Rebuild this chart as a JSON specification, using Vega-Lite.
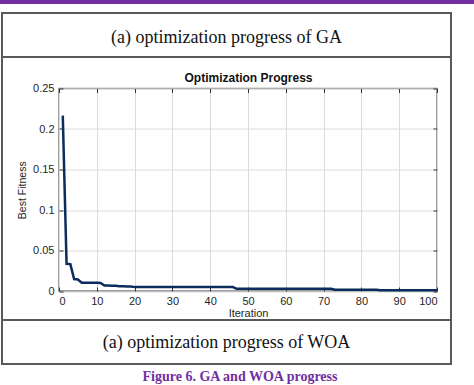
{
  "$schema": "https://vega.github.io/schema/vega-lite/v6.json",
  "width": 378,
  "height": 202.5,
  "autosize": "none",
  "padding": {"left": 59, "top": 88.5, "right": 37, "bottom": 94},
  "background": "white",
  "config": {
    "view": {"stroke": "#7f7f7f", "strokeWidth": 1.5},
    "font": "Liberation Sans"
  },
  "data": {
    "values": [
      {"iteration": 1, "fitness": 0.2165},
      {"iteration": 2, "fitness": 0.0335},
      {"iteration": 3, "fitness": 0.0332},
      {"iteration": 4, "fitness": 0.0147},
      {"iteration": 5, "fitness": 0.0142},
      {"iteration": 6, "fitness": 0.0102},
      {"iteration": 7, "fitness": 0.0102},
      {"iteration": 8, "fitness": 0.0102},
      {"iteration": 9, "fitness": 0.0102},
      {"iteration": 10, "fitness": 0.0102},
      {"iteration": 11, "fitness": 0.0100},
      {"iteration": 12, "fitness": 0.0068},
      {"iteration": 13, "fitness": 0.0068},
      {"iteration": 14, "fitness": 0.0066},
      {"iteration": 15, "fitness": 0.0066},
      {"iteration": 16, "fitness": 0.0058},
      {"iteration": 17, "fitness": 0.0058},
      {"iteration": 18, "fitness": 0.0057},
      {"iteration": 19, "fitness": 0.0056},
      {"iteration": 20, "fitness": 0.0048},
      {"iteration": 21, "fitness": 0.0048},
      {"iteration": 22, "fitness": 0.0048},
      {"iteration": 23, "fitness": 0.0048},
      {"iteration": 24, "fitness": 0.0048},
      {"iteration": 25, "fitness": 0.0048},
      {"iteration": 26, "fitness": 0.0048},
      {"iteration": 27, "fitness": 0.0048},
      {"iteration": 28, "fitness": 0.0048},
      {"iteration": 29, "fitness": 0.0048},
      {"iteration": 30, "fitness": 0.0048},
      {"iteration": 31, "fitness": 0.0048},
      {"iteration": 32, "fitness": 0.0048},
      {"iteration": 33, "fitness": 0.0048},
      {"iteration": 34, "fitness": 0.0048},
      {"iteration": 35, "fitness": 0.0048},
      {"iteration": 36, "fitness": 0.0048},
      {"iteration": 37, "fitness": 0.0048},
      {"iteration": 38, "fitness": 0.0048},
      {"iteration": 39, "fitness": 0.0048},
      {"iteration": 40, "fitness": 0.0048},
      {"iteration": 41, "fitness": 0.0048},
      {"iteration": 42, "fitness": 0.0048},
      {"iteration": 43, "fitness": 0.0048},
      {"iteration": 44, "fitness": 0.0048},
      {"iteration": 45, "fitness": 0.0048},
      {"iteration": 46, "fitness": 0.0048},
      {"iteration": 47, "fitness": 0.0027},
      {"iteration": 48, "fitness": 0.0027},
      {"iteration": 49, "fitness": 0.0027},
      {"iteration": 50, "fitness": 0.0027},
      {"iteration": 51, "fitness": 0.0027},
      {"iteration": 52, "fitness": 0.0027},
      {"iteration": 53, "fitness": 0.0027},
      {"iteration": 54, "fitness": 0.0027},
      {"iteration": 55, "fitness": 0.0027},
      {"iteration": 56, "fitness": 0.0027},
      {"iteration": 57, "fitness": 0.0027},
      {"iteration": 58, "fitness": 0.0027},
      {"iteration": 59, "fitness": 0.0027},
      {"iteration": 60, "fitness": 0.0027},
      {"iteration": 61, "fitness": 0.0027},
      {"iteration": 62, "fitness": 0.0027},
      {"iteration": 63, "fitness": 0.0027},
      {"iteration": 64, "fitness": 0.0027},
      {"iteration": 65, "fitness": 0.0027},
      {"iteration": 66, "fitness": 0.0027},
      {"iteration": 67, "fitness": 0.0027},
      {"iteration": 68, "fitness": 0.0027},
      {"iteration": 69, "fitness": 0.0027},
      {"iteration": 70, "fitness": 0.0027},
      {"iteration": 71, "fitness": 0.0027},
      {"iteration": 72, "fitness": 0.0027},
      {"iteration": 73, "fitness": 0.0015},
      {"iteration": 74, "fitness": 0.0015},
      {"iteration": 75, "fitness": 0.0015},
      {"iteration": 76, "fitness": 0.0015},
      {"iteration": 77, "fitness": 0.0015},
      {"iteration": 78, "fitness": 0.0015},
      {"iteration": 79, "fitness": 0.0015},
      {"iteration": 80, "fitness": 0.0015},
      {"iteration": 81, "fitness": 0.0015},
      {"iteration": 82, "fitness": 0.0015},
      {"iteration": 83, "fitness": 0.0015},
      {"iteration": 84, "fitness": 0.0015},
      {"iteration": 85, "fitness": 0.0009},
      {"iteration": 86, "fitness": 0.0009},
      {"iteration": 87, "fitness": 0.0009},
      {"iteration": 88, "fitness": 0.0009},
      {"iteration": 89, "fitness": 0.0009},
      {"iteration": 90, "fitness": 0.0009},
      {"iteration": 91, "fitness": 0.0009},
      {"iteration": 92, "fitness": 0.0009},
      {"iteration": 93, "fitness": 0.0009},
      {"iteration": 94, "fitness": 0.0009},
      {"iteration": 95, "fitness": 0.0009},
      {"iteration": 96, "fitness": 0.0009},
      {"iteration": 97, "fitness": 0.0009},
      {"iteration": 98, "fitness": 0.0009},
      {"iteration": 99, "fitness": 0.0009},
      {"iteration": 100, "fitness": 0.0009}
    ]
  },
  "resolve": {"axis": {"x": "independent", "y": "independent"}},
  "layer": [
    {
      "mark": {"type": "line", "strokeOpacity": 0},
      "encoding": {
        "x": {"field": "iteration", "type": "quantitative",
          "scale": {"domain": [0, 100], "nice": false, "zero": false},
          "axis": {"orient": "top", "labels": false, "domain": false, "grid": false,
            "title": "Optimization Progress", "titleFont": "Liberation Sans", "titleFontSize": 12, "titleFontWeight": "bold", "titleColor": "#111111", "titlePadding": 4,
            "values": [0, 10, 20, 30, 40, 50, 60, 70, 80, 90, 100], "ticks": true, "tickSize": -4, "tickColor": "#333333", "tickWidth": 1}},
        "y": {"field": "fitness", "type": "quantitative",
          "scale": {"domain": [0, 0.25], "nice": false, "zero": false},
          "axis": {"orient": "right", "labels": false, "domain": false, "grid": false, "title": null,
            "values": [0, 0.05, 0.1, 0.15, 0.2, 0.25], "ticks": true, "tickSize": -4, "tickColor": "#333333", "tickWidth": 1}}
      }
    },
    {
      "mark": {"type": "line", "color": "#0c2c5e", "strokeWidth": 2.5},
      "encoding": {
        "x": {"field": "iteration", "type": "quantitative",
          "scale": {"domain": [0, 100], "nice": false, "zero": false},
          "axis": {"orient": "bottom", "values": [0, 10, 20, 30, 40, 50, 60, 70, 80, 90, 100],
            "domain": false, "grid": true, "gridColor": "#dcdcdc", "gridWidth": 1,
            "ticks": true, "tickSize": -4, "tickColor": "#333333",
            "labelFont": "Liberation Sans", "labelFontSize": 11, "labelColor": "#262626", "labelPadding": 8,
            "title": "Iteration", "titleFont": "Liberation Sans", "titleFontSize": 11, "titleFontWeight": "normal", "titleColor": "#262626", "titlePadding": 1}},
        "y": {"field": "fitness", "type": "quantitative",
          "scale": {"domain": [0, 0.25], "nice": false, "zero": false},
          "axis": {"orient": "left", "values": [0, 0.05, 0.1, 0.15, 0.2, 0.25], "format": ".2~f",
            "domain": false, "grid": true, "gridColor": "#dcdcdc", "gridWidth": 1,
            "ticks": true, "tickSize": -4, "tickColor": "#333333",
            "labelFont": "Liberation Sans", "labelFontSize": 11, "labelColor": "#262626", "labelPadding": 9,
            "title": "Best Fitness", "titleFont": "Liberation Sans", "titleFontSize": 10.5, "titleFontWeight": "normal", "titleColor": "#262626", "titlePadding": 5}}
      }
    },
    {
      "data": {"values": [{}]},
      "mark": {"type": "rect", "color": "#7030a0"},
      "encoding": {
        "x": {"datum": -15.61, "type": "quantitative", "axis": null},
        "x2": {"datum": 109.79},
        "y": {"datum": 0.3593, "type": "quantitative", "axis": null},
        "y2": {"datum": 0.3543}
      }
    },
    {
      "data": {"values": [{}]},
      "mark": {"type": "rule", "color": "#595959", "strokeWidth": 2, "strokeCap": "square"},
      "encoding": {
        "x": {"datum": -15.08, "type": "quantitative", "axis": null},
        "x2": {"datum": 103.7},
        "y": {"datum": 0.3432, "type": "quantitative", "axis": null}
      }
    },
    {
      "data": {"values": [{}]},
      "mark": {"type": "rule", "color": "#595959", "strokeWidth": 2, "strokeCap": "square"},
      "encoding": {
        "x": {"datum": -15.08, "type": "quantitative", "axis": null},
        "x2": {"datum": 103.7},
        "y": {"datum": 0.2889, "type": "quantitative", "axis": null}
      }
    },
    {
      "data": {"values": [{}]},
      "mark": {"type": "rule", "color": "#595959", "strokeWidth": 2, "strokeCap": "square"},
      "encoding": {
        "x": {"datum": -15.08, "type": "quantitative", "axis": null},
        "x2": {"datum": 103.7},
        "y": {"datum": -0.0358, "type": "quantitative", "axis": null}
      }
    },
    {
      "data": {"values": [{}]},
      "mark": {"type": "rule", "color": "#595959", "strokeWidth": 2, "strokeCap": "square"},
      "encoding": {
        "x": {"datum": -15.08, "type": "quantitative", "axis": null},
        "x2": {"datum": 103.7},
        "y": {"datum": -0.0901, "type": "quantitative", "axis": null}
      }
    },
    {
      "data": {"values": [{}]},
      "mark": {"type": "rule", "color": "#595959", "strokeWidth": 2, "strokeCap": "square"},
      "encoding": {
        "x": {"datum": -15.08, "type": "quantitative", "axis": null},
        "y": {"datum": 0.3432, "type": "quantitative", "axis": null},
        "y2": {"datum": -0.0901}
      }
    },
    {
      "data": {"values": [{}]},
      "mark": {"type": "rule", "color": "#595959", "strokeWidth": 2, "strokeCap": "square"},
      "encoding": {
        "x": {"datum": 103.7, "type": "quantitative", "axis": null},
        "y": {"datum": 0.3432, "type": "quantitative", "axis": null},
        "y2": {"datum": -0.0901}
      }
    },
    {
      "data": {"values": [{}]},
      "mark": {"type": "text", "text": "(a) optimization progress of GA", "font": "Liberation Serif", "fontSize": 18, "color": "#111111", "align": "center", "baseline": "middle"},
      "encoding": {
        "x": {"datum": 44.31, "type": "quantitative", "axis": null},
        "y": {"datum": 0.3123, "type": "quantitative", "axis": null}
      }
    },
    {
      "data": {"values": [{}]},
      "mark": {"type": "text", "text": "(a) optimization progress of WOA", "font": "Liberation Serif", "fontSize": 18, "color": "#111111", "align": "center", "baseline": "middle"},
      "encoding": {
        "x": {"datum": 44.31, "type": "quantitative", "axis": null},
        "y": {"datum": -0.0642, "type": "quantitative", "axis": null}
      }
    },
    {
      "data": {"values": [{}]},
      "mark": {"type": "text", "text": "Figure 6. GA and WOA progress", "font": "Liberation Serif", "fontSize": 14, "fontWeight": "bold", "color": "#7030a0", "align": "center", "baseline": "middle"},
      "encoding": {
        "x": {"datum": 47.88, "type": "quantitative", "axis": null},
        "y": {"datum": -0.1062, "type": "quantitative", "axis": null}
      }
    }
  ]
}
